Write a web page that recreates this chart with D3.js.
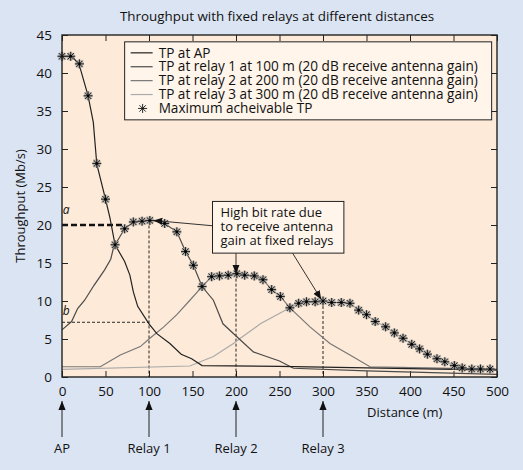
<!DOCTYPE html>
<html lang="en">
<head>
    <meta charset="UTF-8">
    <title>Throughput with fixed relays</title>
    <script src="https://d3js.org/d3.v7.min.js"></script>
    <style>
        body { margin: 0; background: #dbe4f2; }
        text { font-family: 'Open Sans', 'Noto Sans', sans-serif; fill: #111; }
    </style>
</head>
<body>
    <div id="chart"></div>
    <script>
        // values
        const xTicks = [0, 50, 100, 150, 200, 250, 300, 350, 400, 450, 500];
        const yTicks = [0, 5, 10, 15, 20, 25, 30, 35, 40, 45];

        const apX = [0, 12, 20, 30, 36, 40, 50, 55, 61, 72, 78, 82, 87, 100, 109, 124, 137, 149, 161, 250, 350, 500];
        const apY = [42.2, 42.2, 41, 37, 33.5, 28, 23.4, 21, 17.4, 15.2, 13.4, 11.2, 9.3, 7.0, 5.7, 4.4, 3.0, 2.4, 1.5, 1.4, 1.2, 0.9];

        const r1X = [0, 11, 18, 26, 37, 49, 56, 59, 61, 72, 82, 92, 101, 110, 118, 132, 142, 151, 161, 174, 185, 201, 220, 235, 250, 266, 350, 500];
        const r1Y = [6.2, 7.3, 9.0, 10.1, 12.1, 14.1, 15.5, 16.9, 17.4, 19.5, 20.4, 20.5, 20.6, 20.5, 20.2, 19.1, 16.5, 14.7, 11.9, 10.1, 7.0, 5.3, 3.3, 2.7, 2.1, 1.15, 0.8, 0.35];

        const r2X = [0, 44, 67, 90, 101, 117, 132, 147, 161, 172, 181, 191, 201, 210, 221, 231, 241, 251, 262, 285, 308, 331, 354, 420, 500];
        const r2Y = [1.35, 1.35, 2.9, 4.0, 5.1, 6.6, 8.2, 10.1, 11.9, 13.2, 13.3, 13.4, 13.6, 13.4, 13.3, 12.8, 11.5, 10.6, 9.1, 6.6, 4.4, 2.9, 1.35, 1.2, 1.0];

        const r3X = [0, 147, 174, 197, 205, 228, 262, 272, 281, 291, 300, 310, 321, 331, 341, 350, 360, 372, 382, 392, 402, 411, 420, 431, 440, 451, 460, 471, 481, 492, 500];
        const r3Y = [1.0, 1.45, 2.7, 4.4, 5.1, 7.0, 9.1, 9.7, 9.9, 9.9, 10.0, 9.8, 9.8, 9.7, 8.8, 8.2, 7.3, 6.6, 5.8, 5.1, 4.3, 3.7, 3.0, 2.4, 2.0, 1.5, 1.2, 1.05, 1.05, 1.05, 1.0];

        // maximum achievable TP markers
        const maxX = [0, 10, 20, 30, 40, 50, 61, 72, 82, 92, 101, 118, 132, 142, 151, 161, 172, 181, 191, 201, 210, 221, 231, 241, 251, 262, 272, 281, 291, 300, 310, 321, 331, 341, 350, 360, 372, 382, 392, 402, 411, 420, 431, 440, 451, 460, 471, 481, 492];
        const maxY = [42.2, 42.2, 41.2, 37.0, 28.1, 23.4, 17.4, 19.5, 20.4, 20.5, 20.6, 20.2, 19.1, 16.5, 14.7, 11.9, 13.2, 13.3, 13.4, 13.6, 13.4, 13.3, 12.8, 11.5, 10.6, 9.1, 9.7, 9.9, 9.9, 10.0, 9.8, 9.8, 9.7, 8.8, 8.2, 7.3, 6.6, 5.8, 5.1, 4.3, 3.7, 3.0, 2.4, 2.0, 1.5, 1.2, 1.05, 1.05, 1.05];

        const seriesNames = ["TP at AP",
            "TP at relay 1 at 100 m (20 dB receive antenna gain)",
            "TP at relay 2 at 200 m (20 dB receive antenna gain)",
            "TP at relay 3 at 300 m (20 dB receive antenna gain)",
            "Maximum acheivable TP"];
        const seriesColors = ["#222", "#4a4a4a", "#777", "#aaa"];
        const noteLines = ["High bit rate due", "to receive antenna", "gain at fixed relays"];

        const relayPos = [0, 100, 200, 300];
        const relayNames = ["AP", "Relay 1", "Relay 2", "Relay 3"];
        const relayPeak = [null, 20.6, 13.6, 10.0];

        const margin = {top: 35, right: 26, bottom: 93, left: 62},
            W = 523, H = 470,
            width = W - margin.left - margin.right,
            height = H - margin.top - margin.bottom;

        const svgRoot = d3.select("#chart").append("svg")
            .attr("width", W).attr("height", H);

        const defs = svgRoot.append("defs");
        defs.append("marker").attr("id", "arr")
            .attr("viewBox", "0 0 10 10").attr("refX", 10).attr("refY", 5)
            .attr("markerWidth", 9).attr("markerHeight", 9).attr("markerUnits", "userSpaceOnUse")
            .attr("orient", "auto")
            .append("path").attr("d", "M0,1 L10,5 L0,9 Z").attr("fill", "#111");

        svgRoot.append("text").attr("x", 277).attr("y", 21)
            .attr("text-anchor", "middle").style("font-size", "13.4px")
            .text("Throughput with fixed relays at different distances");

        const svg = svgRoot.append("g")
            .attr("transform", `translate(${margin.left},${margin.top})`);

        const x = d3.scaleLinear().domain([0, 500]).range([0, width]);
        const y = d3.scaleLinear().domain([0, 45]).range([height, 0]);

        svg.append("rect").attr("width", width).attr("height", height).attr("fill", "#fdead8");

        // axes with inward ticks on all sides
        const ax = svg.append("g");
        ax.append("g").attr("transform", `translate(0,${height})`)
            .call(d3.axisBottom(x).tickValues(xTicks).tickSizeInner(-6).tickSizeOuter(0).tickPadding(9));
        ax.append("g").call(d3.axisTop(x).tickValues(xTicks).tickSizeInner(-6).tickSizeOuter(0).tickFormat(""));
        ax.append("g").call(d3.axisLeft(y).tickValues(yTicks).tickSizeInner(-6).tickSizeOuter(0).tickPadding(10));
        ax.append("g").attr("transform", `translate(${width},0)`)
            .call(d3.axisRight(y).tickValues(yTicks).tickSizeInner(-6).tickSizeOuter(0).tickFormat(""));
        ax.selectAll(".domain").remove();
        ax.selectAll("line").attr("stroke", "#222");
        ax.selectAll("text").style("font-size", "13.5px").attr("fill", "#111");

        // guide lines
        const guides = svg.append("g").attr("stroke", "#111").attr("fill", "none");
        guides.append("line").attr("x1", x(0)).attr("x2", x(72)).attr("y1", y(20)).attr("y2", y(20))
            .attr("stroke-width", 2.4).attr("stroke-dasharray", "6,3");
        guides.append("line").attr("x1", x(0)).attr("x2", x(100)).attr("y1", y(7.2)).attr("y2", y(7.2))
            .attr("stroke-width", 0.9).attr("stroke-dasharray", "3,2");
        relayPos.slice(1).forEach((p, i) => {
            guides.append("line").attr("x1", x(p)).attr("x2", x(p))
                .attr("y1", y(relayPeak[i + 1])).attr("y2", y(0))
                .attr("stroke-width", 0.9).attr("stroke-dasharray", "3,2");
        });
        svg.append("text").attr("x", x(1)).attr("y", y(21.4)).style("font-size", "12px")
            .style("font-style", "italic").text("a");
        svg.append("text").attr("x", x(1)).attr("y", y(8.2)).style("font-size", "12px")
            .style("font-style", "italic").text("b");

        // curves
        const line = d3.line().x(d => x(d[0])).y(d => y(d[1]));
        const curves = [[apX, apY], [r1X, r1Y], [r2X, r2Y], [r3X, r3Y]];
        curves.slice().reverse().forEach((c, j) => {
            const i = 3 - j;
            svg.append("path").datum(d3.zip(c[0], c[1]))
                .attr("d", line).attr("fill", "none")
                .attr("stroke", seriesColors[i]).attr("stroke-width", 1.2);
        });

        // asterisk markers
        const star = "M-4.5,0L4.5,0M0,-4.5L0,4.5M-3.2,-3.2L3.2,3.2M-3.2,3.2L3.2,-3.2";
        const mk = svg.append("g").selectAll("g").data(d3.zip(maxX, maxY)).join("g")
            .attr("transform", d => `translate(${x(d[0])},${y(d[1])})`);
        mk.append("path").attr("d", star).attr("stroke", "#999").attr("stroke-width", 2.6).attr("opacity", 0.7);
        mk.append("path").attr("d", star).attr("stroke", "#111").attr("stroke-width", 0.9);
        mk.append("circle").attr("r", 1.3).attr("fill", "#000");

        // frame
        svg.append("rect").attr("width", width).attr("height", height)
            .attr("fill", "none").attr("stroke", "#222").attr("stroke-width", 1.4);

        // annotation
        const bx0 = x(173), bx1 = x(324), by0 = y(23.1), by1 = y(16.3);
        const ann = svg.append("g");
        ann.append("line").attr("x1", bx0).attr("y1", y(19.9)).attr("x2", x(105)).attr("y2", y(20.6))
            .attr("stroke", "#333").attr("marker-end", "url(#arr)");
        ann.append("line").attr("x1", x(200)).attr("y1", by1).attr("x2", x(200)).attr("y2", y(13.6))
            .attr("stroke", "#333").attr("marker-end", "url(#arr)");
        ann.append("line").attr("x1", x(265)).attr("y1", by1).attr("x2", x(298)).attr("y2", y(10.2))
            .attr("stroke", "#333").attr("marker-end", "url(#arr)");
        ann.append("rect").attr("x", bx0).attr("y", by0).attr("width", bx1 - bx0).attr("height", by1 - by0)
            .attr("fill", "#fff5eb").attr("stroke", "#222").attr("stroke-width", 1);
        ann.append("text").style("font-size", "13px")
            .selectAll("tspan").data(noteLines).join("tspan")
            .attr("x", bx0 + 8).attr("y", (d, i) => by0 + 16 + i * 14)
            .text(d => d);

        // legend
        const lg = svg.append("g").attr("transform", `translate(${x(72)},${y(44.1)})`);
        lg.append("rect").attr("width", 367).attr("height", 78)
            .attr("fill", "#fff5eb").attr("stroke", "#222").attr("stroke-width", 1);
        seriesNames.forEach((n, i) => {
            const yy = 11 + i * 13.9;
            if (i < 4) {
                lg.append("line").attr("x1", 6).attr("x2", 28).attr("y1", yy).attr("y2", yy)
                    .attr("stroke", seriesColors[i]).attr("stroke-width", 1.2);
            } else {
                lg.append("path").attr("d", star).attr("transform", `translate(18,${yy})`)
                    .attr("stroke", "#111").attr("stroke-width", 0.9);
            }
        });
        lg.append("text").style("font-size", "13.6px")
            .selectAll("tspan").data(seriesNames).join("tspan")
            .attr("x", 34).attr("y", (d, i) => 15.7 + i * 13.9)
            .text(d => d);

        // axis titles
        svg.append("text").attr("x", x(394)).attr("y", height + 40)
            .attr("text-anchor", "middle").style("font-size", "13px").text("Distance (m)");
        svg.append("text").attr("transform", `translate(-37,${height / 2}) rotate(-90)`)
            .attr("text-anchor", "middle").style("font-size", "13px").text("Throughput (Mb/s)");

        // relay arrows below the axis
        relayPos.forEach((p, i) => {
            svg.append("line").attr("x1", x(p)).attr("x2", x(p))
                .attr("y1", height + 60).attr("y2", height + 24)
                .attr("stroke", "#222").attr("marker-end", "url(#arr)");
            svg.append("text").attr("x", x(p)).attr("y", height + 76)
                .attr("text-anchor", "middle").style("font-size", "13px").text(relayNames[i]);
        });
    </script>
</body>
</html>
